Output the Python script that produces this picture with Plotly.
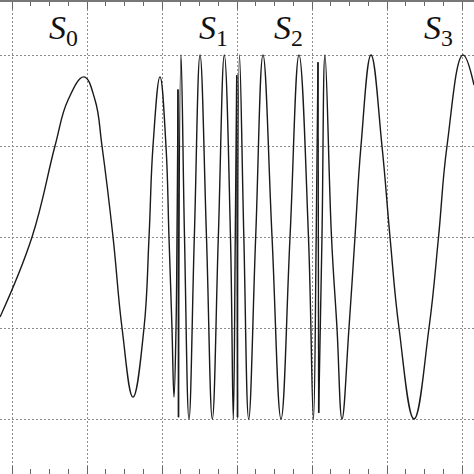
import plotly.graph_objects as go

# segment S0: slow wave, speeding up towards the end
s0_x = [-0.16, 0.267, 0.573, 0.747, 0.96, 1.107, 1.2, 1.347, 1.467, 1.613, 1.76, 1.827, 1.88,
        1.973, 2.053, 2.093, 2.133, 2.16, 2.187, 2.2, 2.209, 2.213]
s0_y = [-0.44, 0, 0.5, 0.753, 0.88, 0.753, 0.5, 0, -0.5, -0.88, -0.5, 0, 0.5,
        0.88, 0.5, 0, -0.5, -0.88, -0.5, 0, 0.5, 0.81]

# segment S1
s1_x = [2.22, 2.253, 2.3, 2.36, 2.431, 2.507, 2.593, 2.671, 2.751, 2.831,
        2.913, 2.951, 2.977, 2.996]
s1_y = [-0.99, 1, 0, -1, 0, 1, 0, -1, 0, 1, 0, -1, 0, 0.89]

# segment S2
s2_x = [3.007, 3.033, 3.091, 3.156, 3.249, 3.347, 3.467, 3.587, 3.707, 3.827,
        3.953, 4.019, 4.056, 4.08]
s2_y = [-0.99, 1, 0, -1, 0, 1, 0, -1, 0, 1, 0, -1, 0, 0.96]

# segment S3: slowing down
s3_x = [4.089, 4.133, 4.173, 4.26, 4.333, 4.4, 4.493, 4.573, 4.653, 4.787, 4.933,
        5.04, 5.16, 5.36, 5.56, 5.687, 5.8, 6.013, 6.16]
s3_y = [-0.967, 0, 1, 0, -0.5, -1, -0.5, 0, 0.5, 1, 0.5,
        0, -0.5, -1, -0.5, 0, 0.5, 1, 0.835]

seg_names = ["0", "1", "2", "3"]
label_x = [0.693, 2.68, 3.693, 5.693]
label_y = [1.137, 1.137, 1.137, 1.137]

segments = [(s0_x, s0_y), (s1_x, s1_y), (s2_x, s2_y), (s3_x, s3_y)]

fig = go.Figure()
for sx, sy in segments:
    fig.add_trace(go.Scatter(x=sx, y=sy, mode="lines",
                             line=dict(color="#1a1a1a", width=1.4,
                                       shape="spline", smoothing=1.2),
                             hoverinfo="skip"))

# jumps between segments
jx, jy = [], []
for (ax_, ay_), (bx_, by_) in zip(segments[:-1], segments[1:]):
    jx += [ax_[-1], bx_[0], None]
    jy += [ay_[-1], by_[0], None]
fig.add_trace(go.Scatter(x=jx, y=jy, mode="lines",
                         line=dict(color="#1a1a1a", width=1.4), hoverinfo="skip"))

for name, lx, ly in zip(seg_names, label_x, label_y):
    fig.add_annotation(x=lx, y=ly, text="<i>S</i><sub>" + name + "</sub>",
                       showarrow=False, xanchor="center", yanchor="middle",
                       font=dict(family="Liberation Serif", size=34, color="#111"))

fig.add_shape(type="line", xref="paper", yref="paper", x0=0, x1=1, y0=1, y1=1,
              line=dict(color="#777", width=2))

fig.update_layout(
    width=474, height=474,
    margin=dict(l=0, r=0, t=1, b=0),
    paper_bgcolor="white", plot_bgcolor="white",
    showlegend=False,
    xaxis=dict(range=[-0.16, 6.16], tick0=0, dtick=1, showticklabels=False,
               ticks="inside", ticklen=8, tickcolor="#666", mirror="ticks",
               showline=False, zeroline=False,
               showgrid=True, gridcolor="#8c8c8c", griddash="2px,2px", gridwidth=1,
               minor=dict(tick0=0, dtick=0.25, ticks="inside", ticklen=5,
                          tickcolor="#666", showgrid=False)),
    yaxis=dict(range=[-1.3022, 1.2967], tick0=0, dtick=0.5, showticklabels=False,
               ticks="", zeroline=False, showline=False,
               showgrid=True, gridcolor="#8c8c8c", griddash="2px,2px", gridwidth=1),
)

# drop the page's default body margin so the figure fills the window
fig.write_html("out.html", config={"displayModeBar": False},
               post_script="document.body.style.margin='0';")
